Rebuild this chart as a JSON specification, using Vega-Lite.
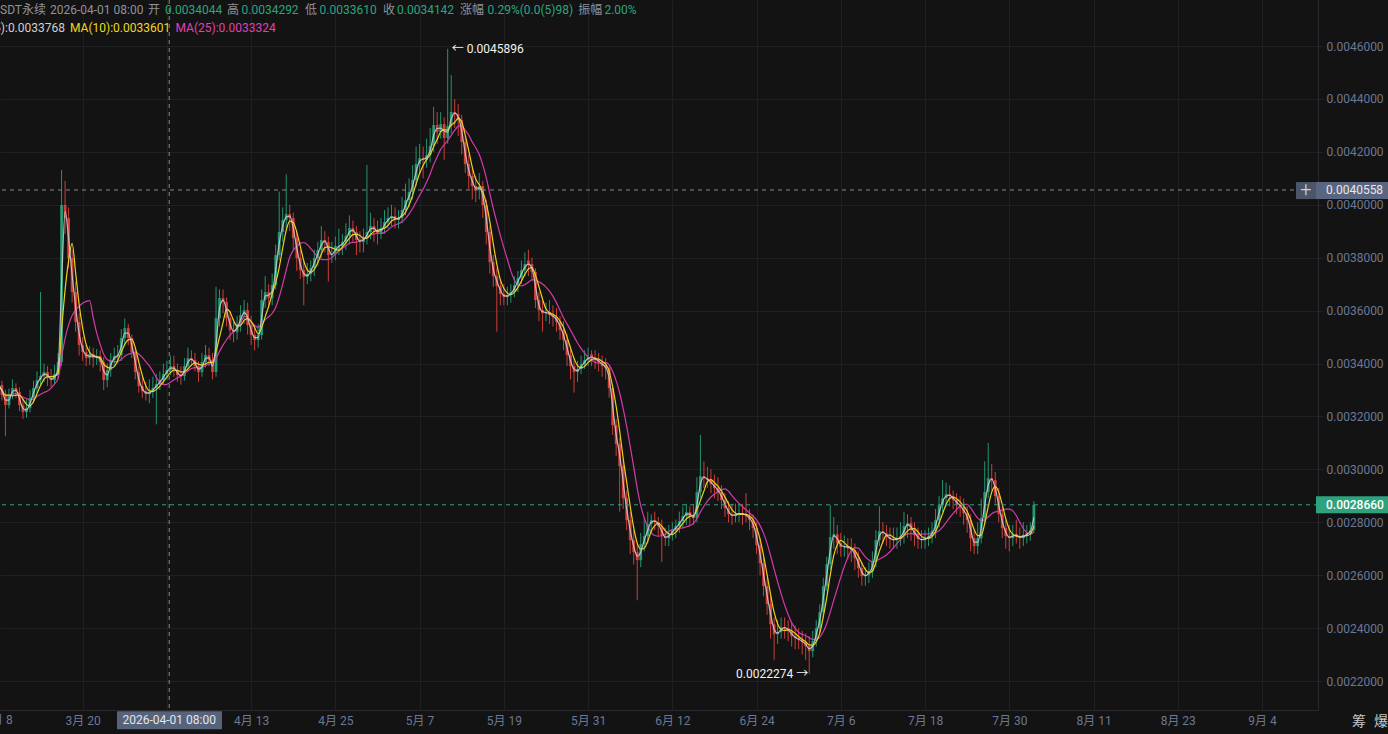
{
"$schema":"https://vega.github.io/schema/vega-lite/v6.json",
"width":1318,"height":710,
"autosize":{"type":"none"},
"padding":{"left":0,"top":0,"right":70,"bottom":24},
"background":"#131313",
"config":{"view":{"stroke":null},"font":"Roboto, Noto Sans CJK SC","text":{"font":"Roboto, Noto Sans CJK SC"}},
"data":{"values":[
{"t":"2026-03-08T00:00","o":0.0033300,"h":0.0033720,"l":0.0032950,"c":0.0033183},
{"t":"2026-03-08T12:00","o":0.0033183,"h":0.0033350,"l":0.0032600,"c":0.0032805},
{"t":"2026-03-09T00:00","o":0.0032805,"h":0.0033010,"l":0.0031250,"c":0.0032427},
{"t":"2026-03-09T12:00","o":0.0032427,"h":0.0033050,"l":0.0032300,"c":0.0032805},
{"t":"2026-03-10T00:00","o":0.0032805,"h":0.0033400,"l":0.0032650,"c":0.0033070},
{"t":"2026-03-10T12:00","o":0.0033070,"h":0.0033250,"l":0.0032700,"c":0.0032919},
{"t":"2026-03-11T00:00","o":0.0032919,"h":0.0033100,"l":0.0032200,"c":0.0032427},
{"t":"2026-03-11T12:00","o":0.0032427,"h":0.0032700,"l":0.0031900,"c":0.0032163},
{"t":"2026-03-12T00:00","o":0.0032163,"h":0.0032650,"l":0.0031950,"c":0.0032314},
{"t":"2026-03-12T12:00","o":0.0032314,"h":0.0033000,"l":0.0032150,"c":0.0032692},
{"t":"2026-03-13T00:00","o":0.0032692,"h":0.0033350,"l":0.0032500,"c":0.0033070},
{"t":"2026-03-13T12:00","o":0.0033070,"h":0.0033700,"l":0.0032900,"c":0.0033372},
{"t":"2026-03-14T00:00","o":0.0033372,"h":0.0036700,"l":0.0033200,"c":0.0033524},
{"t":"2026-03-14T12:00","o":0.0033524,"h":0.0034000,"l":0.0033300,"c":0.0033675},
{"t":"2026-03-15T00:00","o":0.0033675,"h":0.0033900,"l":0.0033150,"c":0.0033448},
{"t":"2026-03-15T12:00","o":0.0033448,"h":0.0033800,"l":0.0033100,"c":0.0033372},
{"t":"2026-03-16T00:00","o":0.0033372,"h":0.0033950,"l":0.0033200,"c":0.0033599},
{"t":"2026-03-16T12:00","o":0.0033599,"h":0.0034400,"l":0.0033450,"c":0.0034053},
{"t":"2026-03-17T00:00","o":0.0034053,"h":0.0041312,"l":0.0033900,"c":0.0039989},
{"t":"2026-03-17T12:00","o":0.0039989,"h":0.0040900,"l":0.0038900,"c":0.0039497},
{"t":"2026-03-18T00:00","o":0.0039497,"h":0.0039900,"l":0.0037600,"c":0.0037985},
{"t":"2026-03-18T12:00","o":0.0037985,"h":0.0038300,"l":0.0036300,"c":0.0036699},
{"t":"2026-03-19T00:00","o":0.0036699,"h":0.0037100,"l":0.0035200,"c":0.0035565},
{"t":"2026-03-19T12:00","o":0.0035565,"h":0.0035900,"l":0.0034300,"c":0.0034696},
{"t":"2026-03-20T00:00","o":0.0034696,"h":0.0035000,"l":0.0034100,"c":0.0034431},
{"t":"2026-03-20T12:00","o":0.0034431,"h":0.0034700,"l":0.0033900,"c":0.0034204},
{"t":"2026-03-21T00:00","o":0.0034204,"h":0.0034650,"l":0.0033950,"c":0.0034355},
{"t":"2026-03-21T12:00","o":0.0034355,"h":0.0034600,"l":0.0033850,"c":0.0034204},
{"t":"2026-03-22T00:00","o":0.0034204,"h":0.0034550,"l":0.0033950,"c":0.0034280},
{"t":"2026-03-22T12:00","o":0.0034280,"h":0.0034500,"l":0.0033700,"c":0.0034053},
{"t":"2026-03-23T00:00","o":0.0034053,"h":0.0034250,"l":0.0033000,"c":0.0033372},
{"t":"2026-03-23T12:00","o":0.0033372,"h":0.0034000,"l":0.0033100,"c":0.0033750},
{"t":"2026-03-24T00:00","o":0.0033750,"h":0.0034400,"l":0.0033500,"c":0.0034128},
{"t":"2026-03-24T12:00","o":0.0034128,"h":0.0034600,"l":0.0033900,"c":0.0034280},
{"t":"2026-03-25T00:00","o":0.0034280,"h":0.0034700,"l":0.0034000,"c":0.0034318},
{"t":"2026-03-25T12:00","o":0.0034318,"h":0.0035300,"l":0.0034100,"c":0.0034960},
{"t":"2026-03-26T00:00","o":0.0034960,"h":0.0035700,"l":0.0034700,"c":0.0035338},
{"t":"2026-03-26T12:00","o":0.0035338,"h":0.0035500,"l":0.0034700,"c":0.0034960},
{"t":"2026-03-27T00:00","o":0.0034960,"h":0.0035100,"l":0.0034200,"c":0.0034431},
{"t":"2026-03-27T12:00","o":0.0034431,"h":0.0034600,"l":0.0033400,"c":0.0033675},
{"t":"2026-03-28T00:00","o":0.0033675,"h":0.0033900,"l":0.0032900,"c":0.0033145},
{"t":"2026-03-28T12:00","o":0.0033145,"h":0.0033500,"l":0.0032700,"c":0.0032956},
{"t":"2026-03-29T00:00","o":0.0032956,"h":0.0033300,"l":0.0032600,"c":0.0032843},
{"t":"2026-03-29T12:00","o":0.0032843,"h":0.0033400,"l":0.0032500,"c":0.0032919},
{"t":"2026-03-30T00:00","o":0.0032919,"h":0.0033500,"l":0.0032700,"c":0.0033070},
{"t":"2026-03-30T12:00","o":0.0033070,"h":0.0033600,"l":0.0031700,"c":0.0033221},
{"t":"2026-03-31T00:00","o":0.0033221,"h":0.0033700,"l":0.0033000,"c":0.0033372},
{"t":"2026-03-31T12:00","o":0.0033372,"h":0.0034000,"l":0.0033200,"c":0.0033599},
{"t":"2026-04-01T00:00","o":0.0033599,"h":0.0034100,"l":0.0033400,"c":0.0033750},
{"t":"2026-04-01T12:00","o":0.0033750,"h":0.0034300,"l":0.0033550,"c":0.0033902},
{"t":"2026-04-02T00:00","o":0.0033902,"h":0.0034300,"l":0.0033500,"c":0.0033750},
{"t":"2026-04-02T12:00","o":0.0033750,"h":0.0034000,"l":0.0033300,"c":0.0033561},
{"t":"2026-04-03T00:00","o":0.0033561,"h":0.0033900,"l":0.0033200,"c":0.0033524},
{"t":"2026-04-03T12:00","o":0.0033524,"h":0.0034200,"l":0.0033350,"c":0.0033902},
{"t":"2026-04-04T00:00","o":0.0033902,"h":0.0034600,"l":0.0033700,"c":0.0034204},
{"t":"2026-04-04T12:00","o":0.0034204,"h":0.0034500,"l":0.0033900,"c":0.0034128},
{"t":"2026-04-05T00:00","o":0.0034128,"h":0.0034400,"l":0.0033700,"c":0.0033902},
{"t":"2026-04-05T12:00","o":0.0033902,"h":0.0034100,"l":0.0033300,"c":0.0033675},
{"t":"2026-04-06T00:00","o":0.0033675,"h":0.0034400,"l":0.0033500,"c":0.0034053},
{"t":"2026-04-06T12:00","o":0.0034053,"h":0.0034700,"l":0.0033850,"c":0.0034318},
{"t":"2026-04-07T00:00","o":0.0034318,"h":0.0034600,"l":0.0033900,"c":0.0034128},
{"t":"2026-04-07T12:00","o":0.0034128,"h":0.0034400,"l":0.0033400,"c":0.0033675},
{"t":"2026-04-08T00:00","o":0.0033675,"h":0.0036900,"l":0.0033500,"c":0.0035716},
{"t":"2026-04-08T12:00","o":0.0035716,"h":0.0036800,"l":0.0035400,"c":0.0036473},
{"t":"2026-04-09T00:00","o":0.0036473,"h":0.0036800,"l":0.0035900,"c":0.0036321},
{"t":"2026-04-09T12:00","o":0.0036321,"h":0.0036500,"l":0.0035400,"c":0.0035716},
{"t":"2026-04-10T00:00","o":0.0035716,"h":0.0036000,"l":0.0034900,"c":0.0035263},
{"t":"2026-04-10T12:00","o":0.0035263,"h":0.0035700,"l":0.0034800,"c":0.0035187},
{"t":"2026-04-11T00:00","o":0.0035187,"h":0.0035800,"l":0.0034900,"c":0.0035490},
{"t":"2026-04-11T12:00","o":0.0035490,"h":0.0036200,"l":0.0035200,"c":0.0035830},
{"t":"2026-04-12T00:00","o":0.0035830,"h":0.0036400,"l":0.0035500,"c":0.0036019},
{"t":"2026-04-12T12:00","o":0.0036019,"h":0.0036300,"l":0.0035100,"c":0.0035452},
{"t":"2026-04-13T00:00","o":0.0035452,"h":0.0035800,"l":0.0034700,"c":0.0035074},
{"t":"2026-04-13T12:00","o":0.0035074,"h":0.0035400,"l":0.0034500,"c":0.0034885},
{"t":"2026-04-14T00:00","o":0.0034885,"h":0.0035500,"l":0.0034600,"c":0.0035074},
{"t":"2026-04-14T12:00","o":0.0035074,"h":0.0036800,"l":0.0034900,"c":0.0036397},
{"t":"2026-04-15T00:00","o":0.0036397,"h":0.0037300,"l":0.0036100,"c":0.0036699},
{"t":"2026-04-15T12:00","o":0.0036699,"h":0.0037000,"l":0.0036100,"c":0.0036473},
{"t":"2026-04-16T00:00","o":0.0036473,"h":0.0037400,"l":0.0036200,"c":0.0036964},
{"t":"2026-04-16T12:00","o":0.0036964,"h":0.0038500,"l":0.0036800,"c":0.0038098},
{"t":"2026-04-17T00:00","o":0.0038098,"h":0.0040500,"l":0.0037900,"c":0.0038968},
{"t":"2026-04-17T12:00","o":0.0038968,"h":0.0039900,"l":0.0038600,"c":0.0039421},
{"t":"2026-04-18T00:00","o":0.0039421,"h":0.0041150,"l":0.0039100,"c":0.0039648},
{"t":"2026-04-18T12:00","o":0.0039648,"h":0.0040000,"l":0.0039000,"c":0.0039497},
{"t":"2026-04-19T00:00","o":0.0039497,"h":0.0039700,"l":0.0038300,"c":0.0038741},
{"t":"2026-04-19T12:00","o":0.0038741,"h":0.0039000,"l":0.0037500,"c":0.0037985},
{"t":"2026-04-20T00:00","o":0.0037985,"h":0.0038300,"l":0.0037200,"c":0.0037531},
{"t":"2026-04-20T12:00","o":0.0037531,"h":0.0037900,"l":0.0036200,"c":0.0037266},
{"t":"2026-04-21T00:00","o":0.0037266,"h":0.0037800,"l":0.0037000,"c":0.0037380},
{"t":"2026-04-21T12:00","o":0.0037380,"h":0.0037900,"l":0.0037100,"c":0.0037607},
{"t":"2026-04-22T00:00","o":0.0037607,"h":0.0038300,"l":0.0037300,"c":0.0037985},
{"t":"2026-04-22T12:00","o":0.0037985,"h":0.0038600,"l":0.0037700,"c":0.0038287},
{"t":"2026-04-23T00:00","o":0.0038287,"h":0.0039200,"l":0.0038000,"c":0.0038665},
{"t":"2026-04-23T12:00","o":0.0038665,"h":0.0039000,"l":0.0038200,"c":0.0038590},
{"t":"2026-04-24T00:00","o":0.0038590,"h":0.0038800,"l":0.0037100,"c":0.0038098},
{"t":"2026-04-24T12:00","o":0.0038098,"h":0.0038600,"l":0.0037800,"c":0.0038136},
{"t":"2026-04-25T00:00","o":0.0038136,"h":0.0038800,"l":0.0037900,"c":0.0038438},
{"t":"2026-04-25T12:00","o":0.0038300,"h":0.0039100,"l":0.0038100,"c":0.0038438},
{"t":"2026-04-26T00:00","o":0.0038438,"h":0.0038900,"l":0.0038100,"c":0.0038590},
{"t":"2026-04-26T12:00","o":0.0038590,"h":0.0039300,"l":0.0038300,"c":0.0038817},
{"t":"2026-04-27T00:00","o":0.0038817,"h":0.0039600,"l":0.0038500,"c":0.0039119},
{"t":"2026-04-27T12:00","o":0.0039119,"h":0.0039400,"l":0.0038600,"c":0.0038968},
{"t":"2026-04-28T00:00","o":0.0038968,"h":0.0039200,"l":0.0038100,"c":0.0038665},
{"t":"2026-04-28T12:00","o":0.0038665,"h":0.0039000,"l":0.0038200,"c":0.0038590},
{"t":"2026-04-29T00:00","o":0.0038590,"h":0.0039100,"l":0.0038200,"c":0.0038741},
{"t":"2026-04-29T12:00","o":0.0038741,"h":0.0041500,"l":0.0038500,"c":0.0038968},
{"t":"2026-04-30T00:00","o":0.0038968,"h":0.0039700,"l":0.0038700,"c":0.0039195},
{"t":"2026-04-30T12:00","o":0.0039195,"h":0.0039500,"l":0.0038600,"c":0.0039043},
{"t":"2026-05-01T00:00","o":0.0039043,"h":0.0039400,"l":0.0038500,"c":0.0038930},
{"t":"2026-05-01T12:00","o":0.0038930,"h":0.0039500,"l":0.0038700,"c":0.0039119},
{"t":"2026-05-02T00:00","o":0.0039119,"h":0.0039800,"l":0.0038900,"c":0.0039346},
{"t":"2026-05-02T12:00","o":0.0039346,"h":0.0039900,"l":0.0039100,"c":0.0039497},
{"t":"2026-05-03T00:00","o":0.0039497,"h":0.0040000,"l":0.0039200,"c":0.0039573},
{"t":"2026-05-03T12:00","o":0.0039573,"h":0.0039900,"l":0.0039100,"c":0.0039421},
{"t":"2026-05-04T00:00","o":0.0039421,"h":0.0039800,"l":0.0039100,"c":0.0039497},
{"t":"2026-05-04T12:00","o":0.0039497,"h":0.0040300,"l":0.0039300,"c":0.0039800},
{"t":"2026-05-05T00:00","o":0.0039800,"h":0.0040800,"l":0.0039600,"c":0.0040178},
{"t":"2026-05-05T12:00","o":0.0040178,"h":0.0041000,"l":0.0039900,"c":0.0040480},
{"t":"2026-05-06T00:00","o":0.0040480,"h":0.0041500,"l":0.0040200,"c":0.0040934},
{"t":"2026-05-06T12:00","o":0.0040934,"h":0.0042200,"l":0.0040700,"c":0.0041539},
{"t":"2026-05-07T00:00","o":0.0041539,"h":0.0042300,"l":0.0041200,"c":0.0041765},
{"t":"2026-05-07T12:00","o":0.0041765,"h":0.0042200,"l":0.0041000,"c":0.0041690},
{"t":"2026-05-08T00:00","o":0.0041690,"h":0.0042500,"l":0.0041400,"c":0.0041879},
{"t":"2026-05-08T12:00","o":0.0041879,"h":0.0042900,"l":0.0041600,"c":0.0042219},
{"t":"2026-05-09T00:00","o":0.0042219,"h":0.0043700,"l":0.0042000,"c":0.0043013},
{"t":"2026-05-09T12:00","o":0.0043013,"h":0.0043500,"l":0.0042300,"c":0.0042748},
{"t":"2026-05-10T00:00","o":0.0042748,"h":0.0043500,"l":0.0042500,"c":0.0043051},
{"t":"2026-05-10T12:00","o":0.0043051,"h":0.0043300,"l":0.0041700,"c":0.0042522},
{"t":"2026-05-11T00:00","o":0.0042522,"h":0.0045896,"l":0.0042300,"c":0.0042975},
{"t":"2026-05-11T12:00","o":0.0042975,"h":0.0044900,"l":0.0042700,"c":0.0043505},
{"t":"2026-05-12T00:00","o":0.0043505,"h":0.0044000,"l":0.0042900,"c":0.0043429},
{"t":"2026-05-12T12:00","o":0.0043429,"h":0.0043800,"l":0.0042600,"c":0.0043202},
{"t":"2026-05-13T00:00","o":0.0043202,"h":0.0043400,"l":0.0041900,"c":0.0042370},
{"t":"2026-05-13T12:00","o":0.0042370,"h":0.0042600,"l":0.0041200,"c":0.0041539},
{"t":"2026-05-14T00:00","o":0.0041539,"h":0.0041900,"l":0.0040600,"c":0.0041085},
{"t":"2026-05-14T12:00","o":0.0041085,"h":0.0041400,"l":0.0040200,"c":0.0040707},
{"t":"2026-05-15T00:00","o":0.0040707,"h":0.0041100,"l":0.0040100,"c":0.0040556},
{"t":"2026-05-15T12:00","o":0.0040556,"h":0.0041200,"l":0.0040200,"c":0.0040707},
{"t":"2026-05-16T00:00","o":0.0040707,"h":0.0040900,"l":0.0039500,"c":0.0039989},
{"t":"2026-05-16T12:00","o":0.0039989,"h":0.0040200,"l":0.0038500,"c":0.0038968},
{"t":"2026-05-17T00:00","o":0.0038968,"h":0.0039200,"l":0.0037400,"c":0.0037834},
{"t":"2026-05-17T12:00","o":0.0037834,"h":0.0038100,"l":0.0036900,"c":0.0037304},
{"t":"2026-05-18T00:00","o":0.0037304,"h":0.0037600,"l":0.0035200,"c":0.0036926},
{"t":"2026-05-18T12:00","o":0.0036926,"h":0.0037200,"l":0.0036200,"c":0.0036624},
{"t":"2026-05-19T00:00","o":0.0036624,"h":0.0037000,"l":0.0036200,"c":0.0036510},
{"t":"2026-05-19T12:00","o":0.0036510,"h":0.0036900,"l":0.0036200,"c":0.0036586},
{"t":"2026-05-20T00:00","o":0.0036586,"h":0.0037000,"l":0.0036300,"c":0.0036699},
{"t":"2026-05-20T12:00","o":0.0036699,"h":0.0037300,"l":0.0036500,"c":0.0036964},
{"t":"2026-05-21T00:00","o":0.0036964,"h":0.0037500,"l":0.0036700,"c":0.0037229},
{"t":"2026-05-21T12:00","o":0.0037229,"h":0.0037900,"l":0.0037000,"c":0.0037531},
{"t":"2026-05-22T00:00","o":0.0037531,"h":0.0038200,"l":0.0037300,"c":0.0037758},
{"t":"2026-05-22T12:00","o":0.0037900,"h":0.0038300,"l":0.0037300,"c":0.0037758},
{"t":"2026-05-23T00:00","o":0.0037758,"h":0.0038000,"l":0.0037100,"c":0.0037455},
{"t":"2026-05-23T12:00","o":0.0037455,"h":0.0037600,"l":0.0036100,"c":0.0036397},
{"t":"2026-05-24T00:00","o":0.0036397,"h":0.0036700,"l":0.0035600,"c":0.0036019},
{"t":"2026-05-24T12:00","o":0.0036019,"h":0.0036500,"l":0.0035200,"c":0.0035905},
{"t":"2026-05-25T00:00","o":0.0035905,"h":0.0036300,"l":0.0035600,"c":0.0035943},
{"t":"2026-05-25T12:00","o":0.0035943,"h":0.0036400,"l":0.0035500,"c":0.0035830},
{"t":"2026-05-26T00:00","o":0.0035830,"h":0.0036200,"l":0.0035400,"c":0.0035754},
{"t":"2026-05-26T12:00","o":0.0035754,"h":0.0036100,"l":0.0035200,"c":0.0035565},
{"t":"2026-05-27T00:00","o":0.0035565,"h":0.0035800,"l":0.0034900,"c":0.0035263},
{"t":"2026-05-27T12:00","o":0.0035263,"h":0.0035600,"l":0.0034500,"c":0.0034885},
{"t":"2026-05-28T00:00","o":0.0034885,"h":0.0035100,"l":0.0033900,"c":0.0034318},
{"t":"2026-05-28T12:00","o":0.0034318,"h":0.0034600,"l":0.0033400,"c":0.0033902},
{"t":"2026-05-29T00:00","o":0.0033902,"h":0.0034200,"l":0.0032900,"c":0.0033675},
{"t":"2026-05-29T12:00","o":0.0033675,"h":0.0034100,"l":0.0033300,"c":0.0033788},
{"t":"2026-05-30T00:00","o":0.0033788,"h":0.0034300,"l":0.0033600,"c":0.0033977},
{"t":"2026-05-30T12:00","o":0.0033977,"h":0.0034500,"l":0.0033800,"c":0.0034128},
{"t":"2026-05-31T00:00","o":0.0034128,"h":0.0034600,"l":0.0033900,"c":0.0034242},
{"t":"2026-05-31T12:00","o":0.0034350,"h":0.0034500,"l":0.0033900,"c":0.0034242},
{"t":"2026-06-01T00:00","o":0.0034242,"h":0.0034500,"l":0.0033800,"c":0.0034128},
{"t":"2026-06-01T12:00","o":0.0034128,"h":0.0034400,"l":0.0033700,"c":0.0034053},
{"t":"2026-06-02T00:00","o":0.0034053,"h":0.0034300,"l":0.0033500,"c":0.0033902},
{"t":"2026-06-02T12:00","o":0.0033902,"h":0.0034200,"l":0.0033400,"c":0.0033826},
{"t":"2026-06-03T00:00","o":0.0033826,"h":0.0033900,"l":0.0032700,"c":0.0033070},
{"t":"2026-06-03T12:00","o":0.0033070,"h":0.0033200,"l":0.0031300,"c":0.0031671},
{"t":"2026-06-04T00:00","o":0.0031671,"h":0.0031900,"l":0.0030500,"c":0.0030953},
{"t":"2026-06-04T12:00","o":0.0030953,"h":0.0031200,"l":0.0028400,"c":0.0030121},
{"t":"2026-06-05T00:00","o":0.0030121,"h":0.0030400,"l":0.0028500,"c":0.0028911},
{"t":"2026-06-05T12:00","o":0.0028911,"h":0.0029200,"l":0.0027700,"c":0.0028079},
{"t":"2026-06-06T00:00","o":0.0028079,"h":0.0028400,"l":0.0026800,"c":0.0027323},
{"t":"2026-06-06T12:00","o":0.0027323,"h":0.0027700,"l":0.0026400,"c":0.0026870},
{"t":"2026-06-07T00:00","o":0.0026870,"h":0.0027200,"l":0.0025050,"c":0.0026567},
{"t":"2026-06-07T12:00","o":0.0026567,"h":0.0027600,"l":0.0026300,"c":0.0027172},
{"t":"2026-06-08T00:00","o":0.0027172,"h":0.0028200,"l":0.0026900,"c":0.0027474},
{"t":"2026-06-08T12:00","o":0.0027474,"h":0.0028400,"l":0.0027200,"c":0.0027928},
{"t":"2026-06-09T00:00","o":0.0027928,"h":0.0028300,"l":0.0027600,"c":0.0028079},
{"t":"2026-06-09T12:00","o":0.0028079,"h":0.0028400,"l":0.0027700,"c":0.0028004},
{"t":"2026-06-10T00:00","o":0.0028004,"h":0.0028200,"l":0.0027500,"c":0.0027853},
{"t":"2026-06-10T12:00","o":0.0027853,"h":0.0028100,"l":0.0026500,"c":0.0027474},
{"t":"2026-06-11T00:00","o":0.0027474,"h":0.0027800,"l":0.0027100,"c":0.0027399},
{"t":"2026-06-11T12:00","o":0.0027399,"h":0.0027900,"l":0.0027100,"c":0.0027550},
{"t":"2026-06-12T00:00","o":0.0027550,"h":0.0028000,"l":0.0027300,"c":0.0027701},
{"t":"2026-06-12T12:00","o":0.0027701,"h":0.0028100,"l":0.0027400,"c":0.0027853},
{"t":"2026-06-13T00:00","o":0.0027853,"h":0.0028400,"l":0.0027600,"c":0.0028042},
{"t":"2026-06-13T12:00","o":0.0028042,"h":0.0028600,"l":0.0027800,"c":0.0028231},
{"t":"2026-06-14T00:00","o":0.0028231,"h":0.0028700,"l":0.0027900,"c":0.0028382},
{"t":"2026-06-14T12:00","o":0.0028382,"h":0.0028600,"l":0.0027900,"c":0.0028231},
{"t":"2026-06-15T00:00","o":0.0028231,"h":0.0028700,"l":0.0027900,"c":0.0028155},
{"t":"2026-06-15T12:00","o":0.0028155,"h":0.0029700,"l":0.0028000,"c":0.0029138},
{"t":"2026-06-16T00:00","o":0.0029138,"h":0.0031300,"l":0.0028900,"c":0.0029743},
{"t":"2026-06-16T12:00","o":0.0029743,"h":0.0030300,"l":0.0029300,"c":0.0029667},
{"t":"2026-06-17T00:00","o":0.0029667,"h":0.0030100,"l":0.0029300,"c":0.0029592},
{"t":"2026-06-17T12:00","o":0.0029592,"h":0.0030000,"l":0.0029100,"c":0.0029440},
{"t":"2026-06-18T00:00","o":0.0029440,"h":0.0029800,"l":0.0028900,"c":0.0029289},
{"t":"2026-06-18T12:00","o":0.0029289,"h":0.0029700,"l":0.0028800,"c":0.0029138},
{"t":"2026-06-19T00:00","o":0.0029138,"h":0.0029400,"l":0.0028500,"c":0.0028836},
{"t":"2026-06-19T12:00","o":0.0028836,"h":0.0029100,"l":0.0028200,"c":0.0028533},
{"t":"2026-06-20T00:00","o":0.0028533,"h":0.0028800,"l":0.0028000,"c":0.0028306},
{"t":"2026-06-20T12:00","o":0.0028306,"h":0.0028700,"l":0.0027900,"c":0.0028231},
{"t":"2026-06-21T00:00","o":0.0028231,"h":0.0028700,"l":0.0028000,"c":0.0028306},
{"t":"2026-06-21T12:00","o":0.0028306,"h":0.0028700,"l":0.0028000,"c":0.0028344},
{"t":"2026-06-22T00:00","o":0.0028344,"h":0.0028700,"l":0.0027900,"c":0.0028306},
{"t":"2026-06-22T12:00","o":0.0028306,"h":0.0029100,"l":0.0028000,"c":0.0028231},
{"t":"2026-06-23T00:00","o":0.0028231,"h":0.0028500,"l":0.0027700,"c":0.0028079},
{"t":"2026-06-23T12:00","o":0.0028079,"h":0.0028300,"l":0.0027400,"c":0.0027777},
{"t":"2026-06-24T00:00","o":0.0027777,"h":0.0028000,"l":0.0026800,"c":0.0027134},
{"t":"2026-06-24T12:00","o":0.0027134,"h":0.0027400,"l":0.0026000,"c":0.0026454},
{"t":"2026-06-25T00:00","o":0.0026454,"h":0.0026700,"l":0.0025200,"c":0.0025584},
{"t":"2026-06-25T12:00","o":0.0025584,"h":0.0025900,"l":0.0024500,"c":0.0024904},
{"t":"2026-06-26T00:00","o":0.0024904,"h":0.0025200,"l":0.0023600,"c":0.0024147},
{"t":"2026-06-26T12:00","o":0.0024147,"h":0.0024400,"l":0.0022800,"c":0.0023769},
{"t":"2026-06-27T00:00","o":0.0023769,"h":0.0024300,"l":0.0023400,"c":0.0023845},
{"t":"2026-06-27T12:00","o":0.0023845,"h":0.0024400,"l":0.0023600,"c":0.0024034},
{"t":"2026-06-28T00:00","o":0.0024034,"h":0.0024400,"l":0.0023600,"c":0.0023996},
{"t":"2026-06-28T12:00","o":0.0023996,"h":0.0024300,"l":0.0023500,"c":0.0023883},
{"t":"2026-06-29T00:00","o":0.0023883,"h":0.0024200,"l":0.0023300,"c":0.0023694},
{"t":"2026-06-29T12:00","o":0.0023694,"h":0.0024100,"l":0.0023200,"c":0.0023618},
{"t":"2026-06-30T00:00","o":0.0023618,"h":0.0024000,"l":0.0023200,"c":0.0023543},
{"t":"2026-06-30T12:00","o":0.0023543,"h":0.0023900,"l":0.0023000,"c":0.0023467},
{"t":"2026-07-01T00:00","o":0.0023467,"h":0.0023800,"l":0.0022800,"c":0.0023316},
{"t":"2026-07-01T12:00","o":0.0023316,"h":0.0023700,"l":0.0022274,"c":0.0023127},
{"t":"2026-07-02T00:00","o":0.0023127,"h":0.0023900,"l":0.0022900,"c":0.0023505},
{"t":"2026-07-02T12:00","o":0.0023505,"h":0.0024300,"l":0.0023300,"c":0.0023996},
{"t":"2026-07-03T00:00","o":0.0023996,"h":0.0024900,"l":0.0023800,"c":0.0024601},
{"t":"2026-07-03T12:00","o":0.0024601,"h":0.0025900,"l":0.0024400,"c":0.0025584},
{"t":"2026-07-04T00:00","o":0.0025584,"h":0.0026700,"l":0.0025400,"c":0.0026416},
{"t":"2026-07-04T12:00","o":0.0026416,"h":0.0028650,"l":0.0026200,"c":0.0027437},
{"t":"2026-07-05T00:00","o":0.0027437,"h":0.0028200,"l":0.0027000,"c":0.0027550},
{"t":"2026-07-05T12:00","o":0.0027550,"h":0.0027900,"l":0.0026800,"c":0.0027210},
{"t":"2026-07-06T00:00","o":0.0027210,"h":0.0027600,"l":0.0026700,"c":0.0027059},
{"t":"2026-07-06T12:00","o":0.0027059,"h":0.0027500,"l":0.0026700,"c":0.0027096},
{"t":"2026-07-07T00:00","o":0.0027096,"h":0.0027400,"l":0.0026600,"c":0.0027021},
{"t":"2026-07-07T12:00","o":0.0027021,"h":0.0027400,"l":0.0026500,"c":0.0026945},
{"t":"2026-07-08T00:00","o":0.0026945,"h":0.0027200,"l":0.0026200,"c":0.0026643},
{"t":"2026-07-08T12:00","o":0.0026643,"h":0.0026900,"l":0.0025900,"c":0.0026265},
{"t":"2026-07-09T00:00","o":0.0026265,"h":0.0026500,"l":0.0025600,"c":0.0025962},
{"t":"2026-07-09T12:00","o":0.0025962,"h":0.0026300,"l":0.0025600,"c":0.0026000},
{"t":"2026-07-10T00:00","o":0.0026000,"h":0.0026500,"l":0.0025700,"c":0.0026151},
{"t":"2026-07-10T12:00","o":0.0026151,"h":0.0026900,"l":0.0025900,"c":0.0026491},
{"t":"2026-07-11T00:00","o":0.0026491,"h":0.0027700,"l":0.0026300,"c":0.0027323},
{"t":"2026-07-11T12:00","o":0.0027323,"h":0.0028600,"l":0.0027100,"c":0.0027663},
{"t":"2026-07-12T00:00","o":0.0027663,"h":0.0028000,"l":0.0027200,"c":0.0027588},
{"t":"2026-07-12T12:00","o":0.0027588,"h":0.0027900,"l":0.0027100,"c":0.0027437},
{"t":"2026-07-13T00:00","o":0.0027437,"h":0.0027800,"l":0.0027000,"c":0.0027361},
{"t":"2026-07-13T12:00","o":0.0027361,"h":0.0027800,"l":0.0027000,"c":0.0027323},
{"t":"2026-07-14T00:00","o":0.0027323,"h":0.0027800,"l":0.0027000,"c":0.0027399},
{"t":"2026-07-14T12:00","o":0.0027399,"h":0.0028000,"l":0.0027100,"c":0.0027474},
{"t":"2026-07-15T00:00","o":0.0027474,"h":0.0028400,"l":0.0027200,"c":0.0027853},
{"t":"2026-07-15T12:00","o":0.0027853,"h":0.0028300,"l":0.0027400,"c":0.0027966},
{"t":"2026-07-16T00:00","o":0.0027966,"h":0.0028200,"l":0.0027300,"c":0.0027701},
{"t":"2026-07-16T12:00","o":0.0027701,"h":0.0028000,"l":0.0027100,"c":0.0027512},
{"t":"2026-07-17T00:00","o":0.0027512,"h":0.0027800,"l":0.0027000,"c":0.0027361},
{"t":"2026-07-17T12:00","o":0.0027361,"h":0.0027700,"l":0.0027000,"c":0.0027323},
{"t":"2026-07-18T00:00","o":0.0027323,"h":0.0027700,"l":0.0027000,"c":0.0027399},
{"t":"2026-07-18T12:00","o":0.0027399,"h":0.0027800,"l":0.0027100,"c":0.0027474},
{"t":"2026-07-19T00:00","o":0.0027474,"h":0.0028000,"l":0.0027200,"c":0.0027663},
{"t":"2026-07-19T12:00","o":0.0027663,"h":0.0028500,"l":0.0027400,"c":0.0028079},
{"t":"2026-07-20T00:00","o":0.0028079,"h":0.0029000,"l":0.0027800,"c":0.0028646},
{"t":"2026-07-20T12:00","o":0.0028646,"h":0.0029600,"l":0.0028400,"c":0.0028911},
{"t":"2026-07-21T00:00","o":0.0028911,"h":0.0029500,"l":0.0028600,"c":0.0029062},
{"t":"2026-07-21T12:00","o":0.0029062,"h":0.0029400,"l":0.0028600,"c":0.0028987},
{"t":"2026-07-22T00:00","o":0.0028987,"h":0.0029200,"l":0.0028500,"c":0.0028836},
{"t":"2026-07-22T12:00","o":0.0028836,"h":0.0029100,"l":0.0028300,"c":0.0028684},
{"t":"2026-07-23T00:00","o":0.0028684,"h":0.0029000,"l":0.0028200,"c":0.0028571},
{"t":"2026-07-23T12:00","o":0.0028571,"h":0.0028900,"l":0.0027900,"c":0.0028344},
{"t":"2026-07-24T00:00","o":0.0028344,"h":0.0028600,"l":0.0027600,"c":0.0028079},
{"t":"2026-07-24T12:00","o":0.0028079,"h":0.0028300,"l":0.0026900,"c":0.0027399},
{"t":"2026-07-25T00:00","o":0.0027399,"h":0.0027700,"l":0.0026800,"c":0.0027096},
{"t":"2026-07-25T12:00","o":0.0027096,"h":0.0028000,"l":0.0026800,"c":0.0027399},
{"t":"2026-07-26T00:00","o":0.0027399,"h":0.0028900,"l":0.0027200,"c":0.0028155},
{"t":"2026-07-26T12:00","o":0.0028155,"h":0.0030300,"l":0.0027900,"c":0.0029138},
{"t":"2026-07-27T00:00","o":0.0029138,"h":0.0031000,"l":0.0028900,"c":0.0029667},
{"t":"2026-07-27T12:00","o":0.0029667,"h":0.0030200,"l":0.0029200,"c":0.0029592},
{"t":"2026-07-28T00:00","o":0.0029592,"h":0.0029900,"l":0.0028700,"c":0.0028987},
{"t":"2026-07-28T12:00","o":0.0028987,"h":0.0029300,"l":0.0028000,"c":0.0028306},
{"t":"2026-07-29T00:00","o":0.0028306,"h":0.0028600,"l":0.0027400,"c":0.0027777},
{"t":"2026-07-29T12:00","o":0.0027777,"h":0.0028100,"l":0.0027000,"c":0.0027474},
{"t":"2026-07-30T00:00","o":0.0027474,"h":0.0027900,"l":0.0026900,"c":0.0027399},
{"t":"2026-07-30T12:00","o":0.0027399,"h":0.0027900,"l":0.0027100,"c":0.0027550},
{"t":"2026-07-31T00:00","o":0.0027550,"h":0.0028100,"l":0.0027200,"c":0.0027474},
{"t":"2026-07-31T12:00","o":0.0027474,"h":0.0027800,"l":0.0027000,"c":0.0027399},
{"t":"2026-08-01T00:00","o":0.0027399,"h":0.0028000,"l":0.0027100,"c":0.0027512},
{"t":"2026-08-01T12:00","o":0.0027512,"h":0.0027900,"l":0.0027200,"c":0.0027588},
{"t":"2026-08-02T00:00","o":0.0027588,"h":0.0028000,"l":0.0027300,"c":0.0027701},
{"t":"2026-08-02T12:00","o":0.0027701,"h":0.0028800,"l":0.0027600,"c":0.0028660}
]},
"layer":[
{"mark":{"type":"rule","strokeWidth":1,"opacity":0.9},
 "encoding":{
  "x":{"field":"t","type":"temporal","title":null,
   "scale":{"domain":[{"year":2026,"month":3,"date":8,"hours":5,"minutes":28},{"year":2026,"month":9,"date":11,"hours":23,"minutes":27}],"nice":false,"padding":0},
   "axis":{"orient":"bottom","values":[{"year":2026,"month":3,"date":20},{"year":2026,"month":4,"date":1},{"year":2026,"month":4,"date":13},{"year":2026,"month":4,"date":25},{"year":2026,"month":5,"date":7},{"year":2026,"month":5,"date":19},{"year":2026,"month":5,"date":31},{"year":2026,"month":6,"date":12},{"year":2026,"month":6,"date":24},{"year":2026,"month":7,"date":6},{"year":2026,"month":7,"date":18},{"year":2026,"month":7,"date":30},{"year":2026,"month":8,"date":11},{"year":2026,"month":8,"date":23},{"year":2026,"month":9,"date":4}],
    "labelExpr":"(month(datum.value) == 3 && date(datum.value) == 1) ? '' : (month(datum.value)+1) + '月 ' + date(datum.value)",
    "grid":true,"gridColor":"#202022","tickSize":0,"domain":true,"domainColor":"#2a2a2e",
    "labelColor":"#6b7896","labelFontSize":12,"labelPadding":5,"labelOverlap":false,"labelFlush":false}},
  "y":{"field":"l","type":"quantitative","title":null,
   "scale":{"domain":[0.0020904,0.0047739],"nice":false,"zero":false,"padding":0},
   "axis":{"orient":"right","values":[0.0022,0.0024,0.0026,0.0028,0.0030,0.0032,0.0034,0.0036,0.0038,0.0040,0.0042,0.0044,0.0046],"format":".7f",
    "grid":true,"gridColor":"#202022","tickSize":5,"tickColor":"#202022","domain":true,"domainColor":"#2a2a2e",
    "labelColor":"#6b7896","labelFontSize":12,"labelPadding":3}},
  "y2":{"field":"h"},
  "color":{"condition":{"test":"datum.c >= datum.o","value":"#26a17b"},"value":"#e0443d"}}},
{"mark":{"type":"bar","size":2.8,"opacity":0.9},
 "encoding":{
  "x":{"field":"t","type":"temporal","title":null},
  "y":{"field":"o","type":"quantitative","title":null},
  "y2":{"field":"c"},
  "color":{"condition":{"test":"datum.c >= datum.o","value":"#26a17b"},"value":"#e0443d"}}},
{"transform":[{"window":[{"op":"mean","field":"c","as":"m25"}],"frame":[-8,0],"sort":[{"field":"t"}]}],
 "mark":{"type":"line","strokeWidth":1.2,"color":"#d43aaa","interpolate":"monotone"},
 "encoding":{"x":{"field":"t","type":"temporal","title":null},"y":{"field":"m25","type":"quantitative","title":null}}},
{"transform":[{"window":[{"op":"mean","field":"c","as":"m10"}],"frame":[-3,0],"sort":[{"field":"t"}]}],
 "mark":{"type":"line","strokeWidth":1.2,"color":"#ecd21c","interpolate":"monotone"},
 "encoding":{"x":{"field":"t","type":"temporal","title":null},"y":{"field":"m10","type":"quantitative","title":null}}},
{"transform":[{"window":[{"op":"mean","field":"c","as":"m5"}],"frame":[-1,0],"sort":[{"field":"t"}]}],
 "mark":{"type":"line","strokeWidth":1.2,"color":"#cfcfcf","opacity":0.85,"interpolate":"monotone"},
 "encoding":{"x":{"field":"t","type":"temporal","title":null},"y":{"field":"m5","type":"quantitative","title":null}}},
{"data":{"values":[{}]},"mark":{"type":"rule","color":"#8a8a8a","strokeDash":[4,4],"strokeWidth":1},
 "encoding":{"y":{"datum":0.0040558,"type":"quantitative"}}},
{"data":{"values":[{}]},"mark":{"type":"rule","color":"#8a8a8a","strokeDash":[4,4],"strokeWidth":1},
 "encoding":{"x":{"datum":{"year":2026,"month":4,"date":1,"hours":8},"type":"temporal"}}},
{"data":{"values":[{}]},"mark":{"type":"rule","color":"#2ea27c","strokeDash":[4,4],"strokeWidth":1},
 "encoding":{"y":{"datum":0.002866,"type":"quantitative"}}},
{"data":{"values":[{}]},"mark":{"type":"text","text":"← 0.0045896","color":"#f2f2f2","fontSize":12,"align":"left","baseline":"middle","dx":4},
 "encoding":{"x":{"datum":{"year":2026,"month":5,"date":11},"type":"temporal"},"y":{"datum":0.0045896,"type":"quantitative"}}},
{"data":{"values":[{}]},"mark":{"type":"text","text":"0.0022274 →","color":"#f2f2f2","fontSize":12,"align":"right","baseline":"middle","dx":-1},
 "encoding":{"x":{"datum":{"year":2026,"month":7,"date":1,"hours":12},"type":"temporal"},"y":{"datum":0.0022274,"type":"quantitative"}}},
{"data":{"values":[{}]},"mark":{"type":"text","text":"3月 8","color":"#6b7896","fontSize":12,"align":"center","baseline":"middle","clip":false},
 "encoding":{"x":{"datum":{"year":2026,"month":3,"date":8},"type":"temporal"},"y":{"datum":0.0020518,"type":"quantitative"}}},
{"data":{"values":[{}]},"mark":{"type":"rect","color":"#56637a","clip":false},
 "encoding":{"x":{"datum":{"year":2026,"month":3,"date":24,"hours":21,"minutes":30},"type":"temporal"},"x2":{"datum":{"year":2026,"month":4,"date":8,"hours":20,"minutes":24}},
  "y":{"datum":0.0020858,"type":"quantitative"},"y2":{"datum":0.0020178}}},
{"data":{"values":[{}]},"mark":{"type":"text","text":"2026-04-01 08:00","color":"#e2e6ec","fontSize":12,"align":"center","baseline":"middle","clip":false},
 "encoding":{"x":{"datum":{"year":2026,"month":4,"date":1,"hours":8},"type":"temporal"},"y":{"datum":0.0020518,"type":"quantitative"}}},
{"data":{"values":[{}]},"mark":{"type":"rect","color":"#4b566a","clip":false},
 "encoding":{"x":{"datum":{"year":2026,"month":9,"date":8,"hours":20,"minutes":12},"type":"temporal"},"x2":{"datum":{"year":2026,"month":9,"date":11,"hours":16,"minutes":36}},
  "y":{"datum":0.0040858,"type":"quantitative"},"y2":{"datum":0.0040215}}},
{"data":{"values":[{}]},"mark":{"type":"text","text":"+","color":"#cdd2da","fontSize":20,"fontWeight":300,"align":"center","baseline":"middle","clip":false},
 "encoding":{"x":{"datum":{"year":2026,"month":9,"date":10,"hours":6,"minutes":24},"type":"temporal"},"y":{"datum":0.0040558,"type":"quantitative"}}},
{"data":{"values":[{}]},"mark":{"type":"rect","color":"#5a6680","clip":false},
 "encoding":{"x":{"datum":{"year":2026,"month":9,"date":11,"hours":16,"minutes":36},"type":"temporal"},"x2":{"datum":{"year":2026,"month":9,"date":21,"hours":22,"minutes":48}},
  "y":{"datum":0.0040858,"type":"quantitative"},"y2":{"datum":0.0040215}}},
{"data":{"values":[{}]},"mark":{"type":"text","text":"0.0040558","color":"#e8e8e8","fontSize":12,"align":"left","baseline":"middle","clip":false},
 "encoding":{"x":{"datum":{"year":2026,"month":9,"date":13,"hours":2,"minutes":48},"type":"temporal"},"y":{"datum":0.0040558,"type":"quantitative"}}},
{"data":{"values":[{}]},"mark":{"type":"rect","color":"#2ea27c","clip":false},
 "encoding":{"x":{"datum":{"year":2026,"month":9,"date":11,"hours":16,"minutes":36},"type":"temporal"},"x2":{"datum":{"year":2026,"month":9,"date":21,"hours":22,"minutes":48}},
  "y":{"datum":0.0028987,"type":"quantitative"},"y2":{"datum":0.0028344}}},
{"data":{"values":[{}]},"mark":{"type":"text","text":"0.0028660","color":"#ffffff","fontSize":12,"fontWeight":500,"align":"left","baseline":"middle","clip":false},
 "encoding":{"x":{"datum":{"year":2026,"month":9,"date":13,"hours":2,"minutes":48},"type":"temporal"},"y":{"datum":0.002866,"type":"quantitative"}}},
{"data":{"values":[{}]},"mark":{"type":"text","text":"筹","color":"#c8c8c8","fontSize":14,"align":"center","baseline":"middle","clip":false},
 "encoding":{"x":{"datum":{"year":2026,"month":9,"date":17,"hours":19,"minutes":36},"type":"temporal"},"y":{"datum":0.0020442,"type":"quantitative"}}},
{"data":{"values":[{}]},"mark":{"type":"text","text":"爆","color":"#c8c8c8","fontSize":14,"align":"center","baseline":"middle","clip":false},
 "encoding":{"x":{"datum":{"year":2026,"month":9,"date":20,"hours":22,"minutes":48},"type":"temporal"},"y":{"datum":0.0020442,"type":"quantitative"}}},
{"data":{"values":[{}]},"mark":{"type":"text","text":"SDT永续","color":"#8e929a","fontSize":12,"align":"left","baseline":"middle"},
 "encoding":{"x":{"datum":{"year":2026,"month":3,"date":8,"hours":5,"minutes":28},"type":"temporal"},"y":{"datum":0.0047361,"type":"quantitative"}}},
{"data":{"values":[{}]},"mark":{"type":"text","text":"2026-04-01 08:00","color":"#8e929a","fontSize":12,"align":"left","baseline":"middle"},
 "encoding":{"x":{"datum":{"year":2026,"month":3,"date":15,"hours":8,"minutes":24},"type":"temporal"},"y":{"datum":0.0047361,"type":"quantitative"}}},
{"data":{"values":[{}]},"mark":{"type":"text","text":"开","color":"#8e929a","fontSize":12,"align":"left","baseline":"middle"},
 "encoding":{"x":{"datum":{"year":2026,"month":3,"date":29,"hours":7,"minutes":24},"type":"temporal"},"y":{"datum":0.0047361,"type":"quantitative"}}},
{"data":{"values":[{}]},"mark":{"type":"text","text":"0.0034044","color":"#29a67f","fontSize":12,"align":"left","baseline":"middle"},
 "encoding":{"x":{"datum":{"year":2026,"month":3,"date":31,"hours":17,"minutes":36},"type":"temporal"},"y":{"datum":0.0047361,"type":"quantitative"}}},
{"data":{"values":[{}]},"mark":{"type":"text","text":"高","color":"#8e929a","fontSize":12,"align":"left","baseline":"middle"},
 "encoding":{"x":{"datum":{"year":2026,"month":4,"date":9,"hours":13,"minutes":30},"type":"temporal"},"y":{"datum":0.0047361,"type":"quantitative"}}},
{"data":{"values":[{}]},"mark":{"type":"text","text":"0.0034292","color":"#29a67f","fontSize":12,"align":"left","baseline":"middle"},
 "encoding":{"x":{"datum":{"year":2026,"month":4,"date":11,"hours":15,"minutes":6},"type":"temporal"},"y":{"datum":0.0047361,"type":"quantitative"}}},
{"data":{"values":[{}]},"mark":{"type":"text","text":"低","color":"#8e929a","fontSize":12,"align":"left","baseline":"middle"},
 "encoding":{"x":{"datum":{"year":2026,"month":4,"date":20,"hours":16,"minutes":12},"type":"temporal"},"y":{"datum":0.0047361,"type":"quantitative"}}},
{"data":{"values":[{}]},"mark":{"type":"text","text":"0.0033610","color":"#29a67f","fontSize":12,"align":"left","baseline":"middle"},
 "encoding":{"x":{"datum":{"year":2026,"month":4,"date":22,"hours":18,"minutes":6},"type":"temporal"},"y":{"datum":0.0047361,"type":"quantitative"}}},
{"data":{"values":[{}]},"mark":{"type":"text","text":"收","color":"#8e929a","fontSize":12,"align":"left","baseline":"middle"},
 "encoding":{"x":{"datum":{"year":2026,"month":5,"date":1,"hours":19},"type":"temporal"},"y":{"datum":0.0047361,"type":"quantitative"}}},
{"data":{"values":[{}]},"mark":{"type":"text","text":"0.0034142","color":"#29a67f","fontSize":12,"align":"left","baseline":"middle"},
 "encoding":{"x":{"datum":{"year":2026,"month":5,"date":3,"hours":18,"minutes":42},"type":"temporal"},"y":{"datum":0.0047361,"type":"quantitative"}}},
{"data":{"values":[{}]},"mark":{"type":"text","text":"涨幅","color":"#8e929a","fontSize":12,"align":"left","baseline":"middle"},
 "encoding":{"x":{"datum":{"year":2026,"month":5,"date":12,"hours":18,"minutes":6},"type":"temporal"},"y":{"datum":0.0047361,"type":"quantitative"}}},
{"data":{"values":[{}]},"mark":{"type":"text","text":"0.29%(0.0(5)98)","color":"#29a67f","fontSize":12,"align":"left","baseline":"middle"},
 "encoding":{"x":{"datum":{"year":2026,"month":5,"date":16,"hours":16,"minutes":6},"type":"temporal"},"y":{"datum":0.0047361,"type":"quantitative"}}},
{"data":{"values":[{}]},"mark":{"type":"text","text":"振幅","color":"#8e929a","fontSize":12,"align":"left","baseline":"middle"},
 "encoding":{"x":{"datum":{"year":2026,"month":5,"date":29,"hours":14},"type":"temporal"},"y":{"datum":0.0047361,"type":"quantitative"}}},
{"data":{"values":[{}]},"mark":{"type":"text","text":"2.00%","color":"#29a67f","fontSize":12,"align":"left","baseline":"middle"},
 "encoding":{"x":{"datum":{"year":2026,"month":6,"date":2,"hours":8},"type":"temporal"},"y":{"datum":0.0047361,"type":"quantitative"}}},
{"data":{"values":[{}]},"mark":{"type":"text","text":"MA(5):0.0033768","color":"#d0d0d0","fontSize":12,"align":"right","baseline":"middle"},
 "encoding":{"x":{"datum":{"year":2026,"month":3,"date":17,"hours":11,"minutes":42},"type":"temporal"},"y":{"datum":0.004668,"type":"quantitative"}}},
{"data":{"values":[{}]},"mark":{"type":"text","text":"MA(10):0.0033601","color":"#f0d81c","fontSize":12,"align":"left","baseline":"middle"},
 "encoding":{"x":{"datum":{"year":2026,"month":3,"date":18,"hours":4,"minutes":48},"type":"temporal"},"y":{"datum":0.004668,"type":"quantitative"}}},
{"data":{"values":[{}]},"mark":{"type":"text","text":"MA(25):0.0033324","color":"#e040b8","fontSize":12,"align":"left","baseline":"middle"},
 "encoding":{"x":{"datum":{"year":2026,"month":4,"date":2,"hours":5,"minutes":30},"type":"temporal"},"y":{"datum":0.004668,"type":"quantitative"}}}
]
}
